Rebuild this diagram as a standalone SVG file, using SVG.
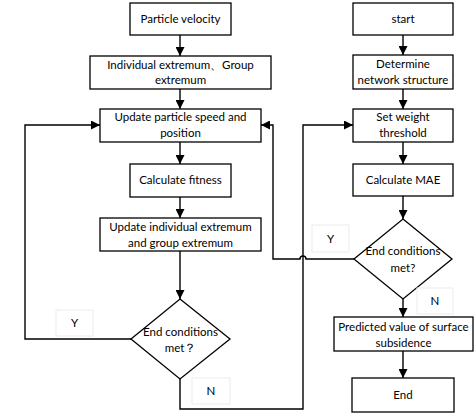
<svg xmlns="http://www.w3.org/2000/svg" width="474" height="420" viewBox="0 0 474 420">
<defs>
<marker id="ah" viewBox="0 0 10 10" refX="10" refY="5" markerWidth="9" markerHeight="9" markerUnits="userSpaceOnUse" orient="auto">
<path d="M0,0 L10,5 L0,10 Z" fill="#000"/>
</marker>
</defs>
<style>
.box{fill:#fff;stroke:#000;stroke-width:1.3}
.lbl{fill:#fff;stroke:#ececec;stroke-width:1}
.t{font-family:Lato,"Open Sans","Liberation Sans",sans-serif;font-size:11.5px;fill:#000;text-anchor:middle}
.c{fill:none;stroke:#000;stroke-width:1.4}
.a{marker-end:url(#ah)}
</style>
<rect width="474" height="420" fill="#fff"/>
<g id="connectors">
<path class="c a" d="M180,35 V56"/>
<path class="c a" d="M180,89 V109"/>
<path class="c a" d="M180,142 V164"/>
<path class="c a" d="M180,197 V218"/>
<path class="c a" d="M180,251 V299"/>
<path class="c a" d="M131,339 H25 V125 H100"/>
<path class="c a" d="M180,379 V409 H303 V125 H353"/>
<path class="c a" d="M403,35 V55"/>
<path class="c a" d="M403,89 V109"/>
<path class="c a" d="M403,142 V164"/>
<path class="c a" d="M403,196 V219"/>
<path class="c a" d="M403,299 V317"/>
<path class="c a" d="M403,351 V378"/>
<path class="c a" d="M354,259 H306 A3,3 0 0 0 300,259 H273 V125 H261"/>
</g>
<g id="pv"><rect class="box" x="130" y="3" width="101" height="32"/><text class="t" x="180.5" y="23">Particle velocity</text></g>
<g id="ie"><rect class="box" x="90" y="56" width="181" height="33"/><text class="t" x="180.5" y="69">Individual extremum、Group</text><text class="t" x="180.5" y="84">extremum</text></g>
<g id="ups"><rect class="box" x="100" y="109" width="161" height="33"/><text class="t" x="180.5" y="121">Update particle speed and</text><text class="t" x="180.5" y="137">position</text></g>
<g id="cf"><rect class="box" x="130" y="164" width="101" height="33"/><text class="t" x="180.5" y="184">Calculate fitness</text></g>
<g id="uie"><rect class="box" x="100" y="218" width="161" height="33"/><text class="t" x="180.5" y="231">Update individual extremum</text><text class="t" x="180.5" y="247">and group extremum</text></g>
<g id="d1"><path class="box" d="M180,299 L230,339 L180,379 L131,339 Z"/><text class="t" x="180.5" y="336">End conditions</text><text class="t" x="180.5" y="352">met？</text></g>
<g id="y1"><rect class="lbl" x="56" y="310" width="37" height="26"/><text class="t" x="74.5" y="327">Y</text></g>
<g id="n1"><rect class="lbl" x="192" y="378" width="38" height="26"/><text class="t" x="211" y="395">N</text></g>
<g id="st"><rect class="box" x="353" y="3" width="100" height="32"/><text class="t" x="403" y="23">start</text></g>
<g id="dns"><rect class="box" x="353" y="55" width="100" height="34"/><text class="t" x="403" y="68">Determine</text><text class="t" x="403" y="84">network structure</text></g>
<g id="swt"><rect class="box" x="353" y="109" width="100" height="33"/><text class="t" x="403" y="121">Set weight</text><text class="t" x="403" y="137">threshold</text></g>
<g id="mae"><rect class="box" x="353" y="164" width="100" height="32"/><text class="t" x="403" y="184">Calculate MAE</text></g>
<g id="d2"><path class="box" d="M403,219 L452,259 L403,299 L354,259 Z"/><text class="t" x="403" y="255">End conditions</text><text class="t" x="403" y="272">met?</text></g>
<g id="y2"><rect class="lbl" x="312" y="225" width="37" height="27"/><text class="t" x="330.5" y="243">Y</text></g>
<g id="n2"><rect class="lbl" x="417" y="288" width="36" height="26"/><text class="t" x="435" y="305">N</text></g>
<g id="pvs"><rect class="box" x="334" y="317" width="139" height="34"/><text class="t" x="403.5" y="331">Predicted value of surface</text><text class="t" x="403.5" y="347">subsidence</text></g>
<g id="end"><rect class="box" x="352" y="378" width="102" height="34"/><text class="t" x="403" y="399">End</text></g>
</svg>
